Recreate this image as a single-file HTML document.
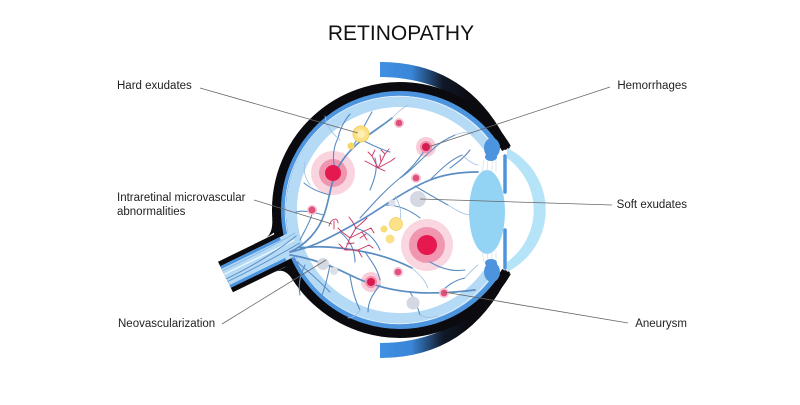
<!DOCTYPE html>
<html><head><meta charset="utf-8"><style>
html,body{margin:0;padding:0;background:#fff;}
svg{display:block;}
text{font-family:"Liberation Sans",Arial,sans-serif;}
</style></head><body>
<svg width="800" height="405" viewBox="0 0 800 405" xmlns="http://www.w3.org/2000/svg">
<defs>
<linearGradient id="lid" gradientUnits="userSpaceOnUse" x1="380" y1="0" x2="470" y2="0">
<stop offset="0" stop-color="#3f8fe3"/><stop offset="0.35" stop-color="#3a86d8"/><stop offset="0.7" stop-color="#101828"/><stop offset="1" stop-color="#0b0b10"/>
</linearGradient>
</defs>
<rect width="800" height="405" fill="#fff"/>
<text x="401" y="40" font-size="21" text-anchor="middle" fill="#111">RETINOPATHY</text>

<!-- eyelid crescents -->
<path d="M380,62 Q470,62 510,148 L505,150 A127,127 0 0 0 440,88.5 Q412,77 380,77 Z" fill="url(#lid)"/>
<g transform="translate(0,420) scale(1,-1)">
<path d="M380,62 Q470,62 510,148 L505,150 A127,127 0 0 0 440,88.5 Q412,77 380,77 Z" fill="url(#lid)"/>
</g>

<!-- optic nerve black -->
<g transform="translate(225.5,277) rotate(-26)">
<rect x="0" y="-17" width="72" height="34" fill="#0b0b0f"/>
</g>
<path d="M274.3,272.2 Q285.3,266.8 293.9,281.6 L300,260 Z" fill="#0b0b0f"/>
<path d="M264.8,238.9 Q273,234 272.3,218.9 L285,225 Z" fill="#0b0b0f"/>

<!-- black ring -->
<path d="M506.5,148.5 A123,123 0 1 0 506.5,271.5" fill="none" stroke="#0b0b0f" stroke-width="10"/>
<!-- medium blue ring -->
<path d="M497.7,146.6 A116.5,116.5 0 1 0 497.7,273.4" fill="none" stroke="#4d94df" stroke-width="5"/>
<!-- light blue ring -->
<path d="M487.8,146.2 A108.5,108.5 0 1 0 487.8,273.8" fill="none" stroke="#b4daf6" stroke-width="11"/>
<path d="M493,146 A113.8,113.8 0 1 0 493,274" fill="none" stroke="#e6f2fc" stroke-width="0.8"/>

<!-- nerve interior -->
<g transform="translate(225.5,277) rotate(-26)">
<rect x="0" y="-12" width="82" height="24" fill="#b4daf6"/>
<rect x="0" y="-12" width="66" height="3" fill="#4d94df"/>
<rect x="0" y="9" width="62" height="3" fill="#4d94df"/>
<path d="M0,-3 L78,-3" stroke="#eef7fe" stroke-width="1.3"/>
<path d="M0,2 C30,2 55,0 82,-6" stroke="#5b8cc2" stroke-width="1" fill="none"/>
<path d="M0,5 C30,5 55,4 82,2" stroke="#5b8cc2" stroke-width="0.9" fill="none"/>
<path d="M0,-7 C30,-7 55,-7 82,-9" stroke="#7fb0e2" stroke-width="0.8" fill="none"/>
</g>

<!-- white interior -->
<circle cx="400" cy="210" r="103" fill="#fff"/>

<!-- cornea -->
<path d="M507,148 A69,69 0 0 1 507,272 L507,262 A64,64 0 0 0 507,158 Z" fill="#b5e3f8"/>
<!-- lens -->
<ellipse cx="487" cy="212" rx="18" ry="42" fill="#93d4f4"/>
<!-- zonules -->
<g stroke="#c6dbe9" stroke-width="0.6">
<path d="M484,160 L482,172 M488,160 L487,171 M492,160 L492,171 M496,160 L496,172"/>
<path d="M484,262 L482,250 M488,262 L487,252 M492,262 L492,252 M496,262 L496,250"/>
</g>
<!-- iris -->
<path d="M505,156 L505,192" stroke="#4d94df" stroke-width="3.5" stroke-linecap="round"/>
<path d="M505,230 L505,268" stroke="#4d94df" stroke-width="3.5" stroke-linecap="round"/>
<!-- ciliary bodies -->
<ellipse cx="492" cy="148" rx="8" ry="10" fill="#4d94df"/>
<ellipse cx="491" cy="157" rx="6" ry="4" fill="#4d94df"/>
<ellipse cx="492" cy="272" rx="8" ry="10" fill="#4d94df"/>
<ellipse cx="491" cy="263" rx="6" ry="4" fill="#4d94df"/>

<!-- big hemorrhage halos (under vessels) -->
<circle cx="333" cy="173" r="22" fill="#f9d3de"/>
<circle cx="333" cy="173" r="14" fill="#f095af"/>
<circle cx="427" cy="245" r="26" fill="#fad6e0"/>
<circle cx="427" cy="245" r="18" fill="#f196b0"/>
<circle cx="426" cy="147" r="10" fill="#f9ccd9"/>
<circle cx="371" cy="282" r="10" fill="#f9ccd9"/>

<!-- vessels -->
<g fill="none" stroke="#5b8cc2" stroke-linecap="round">
<g stroke-width="1.7">
<path d="M290,252 C305,245 318,232 324,215 C330,198 330,185 336,172 C342,158 352,148 362,140 C372,132 382,126 392,118"/>
<path d="M290,252 C310,248 325,240 340,232 C355,224 370,215 385,205 C400,195 415,186 430,180 C445,174 460,172 478,172"/>
<path d="M290,255 C310,258 330,265 350,275 C370,285 390,290 410,292 C430,294 450,293 475,290"/>
<path d="M300,248 C320,245 345,248 365,252 C385,256 400,262 412,268"/>
</g>
<g stroke-width="1.1">
<path d="M292,258 C305,268 318,280 330,292"/>
<path d="M336,172 C332,160 333,148 338,138 C340,128 345,120 350,114"/>
<path d="M362,140 C372,145 382,150 390,152"/>
<path d="M360,218 C372,205 385,190 400,178 C412,168 418,160 425,150"/>
<path d="M400,178 C410,172 420,160 432,150 C440,142 448,138 455,135"/>
<path d="M415,186 C425,192 435,198 448,205"/>
<path d="M430,180 C440,170 450,160 462,155"/>
<path d="M324,215 C312,212 302,210 296,212"/>
<path d="M330,195 C318,192 310,188 304,183"/>
<path d="M350,275 C352,290 355,300 360,310"/>
<path d="M410,292 C415,300 418,308 420,315"/>
<path d="M365,252 C372,262 378,270 380,280"/>
<path d="M380,285 C372,295 368,302 368,312"/>
<path d="M440,293 C448,285 455,280 465,278"/>
<path d="M340,232 C350,240 355,250 355,262"/>
<path d="M370,190 C375,178 378,168 375,158"/>
<path d="M450,168 C458,162 464,158 470,150"/>
<path d="M430,262 C440,268 452,272 465,270"/>
<path d="M300,240 C305,230 310,222 312,214"/>
<path d="M305,265 C300,275 298,285 300,295"/>
<path d="M352,148 C360,135 366,122 372,112"/>
<path d="M385,205 C398,205 410,210 420,218"/>
<path d="M355,228 C365,230 375,238 380,250"/>
<path d="M330,265 C328,275 326,285 322,295"/>
</g>
<g stroke-width="0.8" stroke="#9fbfe4">
<path d="M392,118 C398,112 402,108 408,105"/>
<path d="M340,140 C330,132 326,124 325,116"/>
<path d="M455,135 C462,132 468,132 474,134"/>
<path d="M448,205 C456,210 462,214 470,215"/>
<path d="M462,155 C468,160 472,164 478,165"/>
<path d="M310,185 C305,178 303,170 305,162"/>
<path d="M420,315 C425,318 432,318 438,316"/>
<path d="M360,310 C356,316 352,318 348,318"/>
<path d="M465,278 C470,272 474,268 478,265"/>
<path d="M412,268 C420,275 425,280 428,288"/>
<path d="M395,196 C400,205 402,212 400,220"/>
</g>
</g>

<!-- red neovascular clusters -->
<g fill="none" stroke="#c93462" stroke-width="0.9" stroke-linecap="round">
<path d="M378,168 L372,156 M378,168 L385,154 M378,168 L391,161 M378,168 L369,163 M378,168 L385,171 M372,156 L368,152 M372,156 L375,150 M385,154 L389,149 M385,154 L381,150 M391,161 L395,158 M369,163 L365,161 M381,162 L380,155"/>
<path d="M345,250 L350,238 L356,228 M350,238 L362,232 L371,228 M350,238 L342,232 M356,228 L352,221 M356,228 L363,222 M362,232 L367,240 M345,250 L358,250 L369,245 M345,250 L339,244 M358,250 L362,257 M342,232 L338,228 M363,222 L367,218 M371,228 L374,233 M352,221 L349,217 M369,245 L373,248 M347,244 L354,243 M360,238 L366,234"/>
<path d="M329,226 C331,218 338,217 338,223 M334,221 L334,229"/>
</g>

<!-- lesion cores -->
<circle cx="333" cy="173" r="8" fill="#e5184f"/>
<circle cx="427" cy="245" r="10" fill="#e5184f"/>
<circle cx="426" cy="147" r="6" fill="#f08eab"/>
<circle cx="426" cy="147" r="4" fill="#d91a4f"/>
<circle cx="371" cy="282" r="6" fill="#f08eab"/>
<circle cx="371" cy="282" r="4" fill="#d91a4f"/>
<g fill="#f6c3d2">
<circle cx="399" cy="123" r="5"/><circle cx="416" cy="178" r="5"/><circle cx="312" cy="210" r="5"/><circle cx="398" cy="272" r="5"/><circle cx="444" cy="293" r="5"/>
</g>
<g fill="#e0507a">
<circle cx="399" cy="123" r="3.3"/><circle cx="416" cy="178" r="3.3"/><circle cx="312" cy="210" r="3.5"/><circle cx="398" cy="272" r="3.3"/><circle cx="444" cy="293" r="3.3"/>
</g>
<!-- soft exudates -->
<circle cx="418" cy="199" r="8" fill="#d4d8e2"/>
<circle cx="392" cy="203" r="3.5" fill="#dcdfe7"/>
<circle cx="323" cy="264" r="6" fill="#d4d8e2"/>
<circle cx="334" cy="271" r="4" fill="#dde0e8"/>
<circle cx="413" cy="303" r="6.5" fill="#d4d8e2"/>
<!-- hard exudates -->
<circle cx="361" cy="134" r="8" fill="#fbe18a" stroke="#f3d25a" stroke-width="1"/>
<circle cx="361" cy="134" r="4" fill="#fdefb4"/>
<circle cx="351" cy="146" r="3.5" fill="#f6d667"/>
<circle cx="396" cy="224" r="6.5" fill="#fbe18a" stroke="#f3d25a" stroke-width="0.8"/>
<circle cx="384" cy="229" r="3.5" fill="#f8dc78"/>
<circle cx="390" cy="239" r="4.5" fill="#fbe18a"/>

<!-- leader lines -->
<g stroke="#666" stroke-width="0.8" fill="none">
<path d="M200,88 L358,133"/>
<path d="M254,200 L332,224"/>
<path d="M222,324 L326,260"/>
<path d="M610,87 L428,147"/>
<path d="M612,205 L420,199"/>
<path d="M628,323 L444,292"/>
</g>

<!-- labels -->
<g font-size="11.5" fill="#222">
<text x="117" y="89">Hard exudates</text>
<text x="117" y="201">Intraretinal microvascular</text>
<text x="117" y="215">abnormalities</text>
<text x="118" y="327">Neovascularization</text>
<text x="687" y="89" text-anchor="end">Hemorrhages</text>
<text x="687" y="208" text-anchor="end">Soft exudates</text>
<text x="687" y="327" text-anchor="end">Aneurysm</text>
</g>
</svg>
</body></html>
